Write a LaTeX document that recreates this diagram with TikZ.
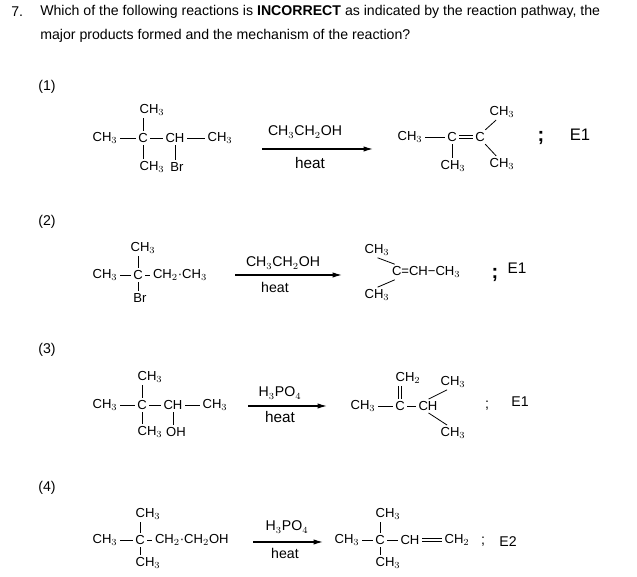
\documentclass[tikz,border=0pt]{standalone}
\usepackage{fontspec}
\setmainfont{Liberation Sans}
\usetikzlibrary{arrows.meta}
\begin{document}
\begin{tikzpicture}[x=0.75pt,y=-0.75pt,
  a/.style={inner sep=1.3pt,font=\fontsize{9.8}{10}\selectfont},
  t/.style={inner sep=0pt,font=\fontsize{10.6}{12}\selectfont},
  b/.style={line width=0.6pt,shorten <=0.5pt,shorten >=0.5pt},
  rx/.style={-{Latex[length=7pt,width=4pt]},line width=0.9pt}]
\useasboundingbox (0,0) rectangle (637,577);
\node[t,anchor=west] (q7) at (11,12) {7.};
\node[t,anchor=west] (ql1) at (40,12) {Which of the following reactions is \textbf{INCORRECT} as indicated by the reaction pathway, the};
\node[t,anchor=west] (ql2) at (40,36) {major products formed and the mechanism of the reaction?};
\node[t] (n1) at (47,87) {(1)};
\node[t] (n2) at (47,222) {(2)};
\node[t] (n3) at (47,350) {(3)};
\node[t] (n4) at (47,488) {(4)};
% ---- reaction 1
\node[a] (r1l) at (105,138) {CH$_3$};
\node[a] (r1c) at (143,138) {C};
\node[a] (r1ch) at (175,138) {CH};
\node[a] (r1r) at (220,138) {CH$_3$};
\node[a] (r1t) at (152,110) {CH$_3$};
\node[a] (r1b) at (152,167) {CH$_3$};
\node[a] (r1br) at (177,167) {Br};
\draw[b] (r1l) -- (r1c); \draw[b] (r1c) -- (r1ch); \draw[b] (r1ch) -- (r1r);
\draw[b] (r1c.north) -- (r1c.north|-r1t.south); \draw[b] (r1c.south) -- (r1c.south|-r1b.north);
\draw[b] (r1ch.south) -- (r1ch.south|-r1br.north);
\coordinate (a1s) at (262,149); \coordinate (a1e) at (373,149);
\draw[rx] (a1s) -- (a1e);
\node[t] (a1t) at (305,132) {CH$_3$CH$_2$OH};
\node[t,font=\fontsize{11.5}{12}\selectfont] (a1b) at (310,163) {heat};
\node[a] (p1l) at (410,137) {CH$_3$};
\node[a] (p1c1) at (452,137) {C};
\node[a] (p1c2) at (480,137) {C};
\node[a] (p1tr) at (502,112) {CH$_3$};
\node[a] (p1b) at (453,166) {CH$_3$};
\node[a] (p1br) at (502,164) {CH$_3$};
\draw[b] (p1l) -- (p1c1);
\draw[b] ([yshift=1.3pt]p1c1.east) -- ([yshift=1.3pt]p1c2.west);
\draw[b] ([yshift=-1.3pt]p1c1.east) -- ([yshift=-1.3pt]p1c2.west);
\draw[b] (p1c1.south) -- (p1c1.south|-p1b.north);
\draw[b] ([xshift=-1.5pt]p1c2.north east) -- ([xshift=-4pt]p1tr.south);
\draw[b] ([xshift=-1.5pt]p1c2.south east) -- ([xshift=-4pt]p1br.north);
\node[t,font=\fontsize{15}{15}\selectfont\bfseries] (s1) at (541,138) {;};
\node[t,font=\fontsize{12.5}{13}\selectfont] (m1) at (580,135) {E1};
% ---- reaction 2
\node[a] (r2l) at (105,275) {CH$_3$};
\node[a] (r2c) at (138,275) {C};
\node[a,anchor=west] (r2r) at (151,275) {CH$_2$·CH$_3$};
\node[a] (r2t) at (143,248) {CH$_3$};
\node[a] (r2br) at (140,298) {Br};
\draw[b] (r2l) -- (r2c); \draw[b] (r2c) -- (r2r);
\draw[b] (r2c.north) -- (r2c.north|-r2t.south); \draw[b] (r2c.south) -- (r2c.south|-r2br.north);
\coordinate (a2s) at (235,275); \coordinate (a2e) at (342,275);
\draw[rx] (a2s) -- (a2e);
\node[t] (a2t) at (283,263) {CH$_3$CH$_2$OH};
\node[t] (a2b) at (275,287) {heat};
\node[a] (p2t) at (377,250) {CH$_3$};
\node[a,anchor=west] (p2c) at (390,272) {C=CH−CH$_3$};
\node[a] (p2b) at (377,295) {CH$_3$};
\draw[b] (p2t.south) -- ([xshift=4pt]p2c.north west);
\draw[b] (p2b.north) -- ([xshift=4pt]p2c.south west);
\node[t,font=\fontsize{15}{15}\selectfont\bfseries] (s2) at (495,275) {;};
\node[t,font=\fontsize{11.5}{12}\selectfont] (m2) at (517,268) {E1};
% ---- reaction 3
\node[a] (r3l) at (105,405) {CH$_3$};
\node[a] (r3c) at (142,405) {C};
\node[a] (r3ch) at (173,405) {CH};
\node[a] (r3r) at (215,405) {CH$_3$};
\node[a] (r3t) at (150,377) {CH$_3$};
\node[a] (r3b) at (150,432) {CH$_3$};
\node[a] (r3oh) at (176,432) {OH};
\draw[b] (r3l) -- (r3c); \draw[b] (r3c) -- (r3ch); \draw[b] (r3ch) -- (r3r);
\draw[b] (r3c.north) -- (r3c.north|-r3t.south); \draw[b] (r3c.south) -- (r3c.south|-r3b.north);
\draw[b] (r3ch.south) -- (r3ch.south|-r3oh.north);
\coordinate (a3s) at (248,406); \coordinate (a3e) at (327,406);
\draw[rx] (a3s) -- (a3e);
\node[t] (a3t) at (280,393) {H$_3$PO$_4$};
\node[t,font=\fontsize{11.5}{12}\selectfont] (a3b) at (280,417) {heat};
\node[a] (p3l) at (363,406) {CH$_3$};
\node[a] (p3c) at (400,406) {C};
\node[a] (p3ch) at (428,406) {CH};
\node[a] (p3t) at (408,378) {CH$_2$};
\node[a] (p3tr) at (453,382) {CH$_3$};
\node[a] (p3br) at (453,433) {CH$_3$};
\draw[b] (p3l) -- (p3c); \draw[b] (p3c) -- (p3ch);
\draw[b] ([xshift=-1.2pt]p3c.north) -- ([xshift=-1.2pt]p3c.north|-p3t.south);
\draw[b] ([xshift=1.2pt]p3c.north) -- ([xshift=1.2pt]p3c.north|-p3t.south);
\draw[b] (p3ch.north) -- ([xshift=-4pt]p3tr.south);
\draw[b] (p3ch.south) -- ([xshift=-4pt]p3br.north);
\node[t] (s3) at (487,406) {;};
\node[t] (m3) at (520,402) {E1};
% ---- reaction 4
\node[a] (r4l) at (105,540) {CH$_3$};
\node[a] (r4c) at (140,540) {C};
\node[a,anchor=west] (r4r) at (153,540) {CH$_2$·CH$_2$OH};
\node[a] (r4t) at (148,514) {CH$_3$};
\node[a] (r4b) at (148,563) {CH$_3$};
\draw[b] (r4l) -- (r4c); \draw[b] (r4c) -- (r4r);
\draw[b] (r4c.north) -- (r4c.north|-r4t.south); \draw[b] (r4c.south) -- (r4c.south|-r4b.north);
\coordinate (a4s) at (253,542); \coordinate (a4e) at (323,542);
\draw[rx] (a4s) -- (a4e);
\node[t] (a4t) at (287,527) {H$_3$PO$_4$};
\node[t] (a4b) at (285,553) {heat};
\node[a] (p4l) at (347,540) {CH$_3$};
\node[a] (p4c) at (380,540) {C};
\node[a] (p4ch) at (410,540) {CH};
\node[a] (p4r) at (457,540) {CH$_2$};
\node[a] (p4t) at (388,514) {CH$_3$};
\node[a] (p4b) at (388,563) {CH$_3$};
\draw[b] (p4l) -- (p4c); \draw[b] (p4c) -- (p4ch);
\draw[b] ([yshift=1.3pt]p4ch.east) -- ([yshift=1.3pt]p4r.west);
\draw[b] ([yshift=-1.3pt]p4ch.east) -- ([yshift=-1.3pt]p4r.west);
\draw[b] (p4c.north) -- (p4c.north|-p4t.south); \draw[b] (p4c.south) -- (p4c.south|-p4b.north);
\node[t] (s4) at (483,542) {;};
\node[t] (m4) at (508,542) {E2};
\end{tikzpicture}
\end{document}
